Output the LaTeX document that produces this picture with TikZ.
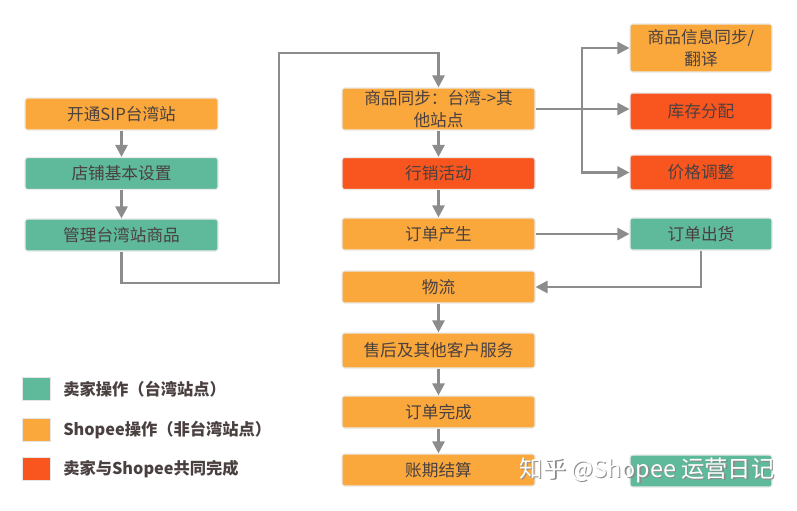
\documentclass[tikz,border=0pt]{standalone}
\usepackage{fontspec}
\setmainfont{Noto Sans CJK SC}
\usetikzlibrary{arrows.meta}
\definecolor{cO}{HTML}{FAA83C}
\definecolor{cG}{HTML}{5FB99B}
\definecolor{cR}{HTML}{F9561F}
\definecolor{txt}{HTML}{4A4040}
\definecolor{ln}{HTML}{8C8C8C}
\tikzset{
  box/.style={draw=black!8, line width=0.8pt, rounded corners=2pt, text=txt, font=\fontsize{12.5}{17}\selectfont, inner sep=0pt, align=center},
  lbox/.style={box, minimum width=144.75pt, minimum height=24pt},
  rbox/.style={box, minimum width=106.5pt, minimum height=24pt},
  line/.style={draw=ln, line width=1.9pt},
  arr/.style={line, -{Triangle[length=9pt,width=9pt]}},
  legsq/.style={draw=black!10, line width=0.6pt, minimum width=21pt, minimum height=17.25pt, inner sep=0pt},
  legtxt/.style={anchor=west, text=txt, font=\fontsize{12.2}{14}\selectfont\bfseries, inner sep=0pt},
  wmark/.style={font=\fontsize{17.5}{20}\selectfont, inner sep=0pt}
}
\begin{document}
\begin{tikzpicture}[x=0.75pt,y=-0.75pt]
\useasboundingbox[fill=white] (0,0) rectangle (797,511);
% left column
\node[lbox, fill=cO] (a1) at (121.5,114) {开通SIP台湾站};
\node[lbox, fill=cG] (a2) at (121.5,173.5) {店铺基本设置};
\node[lbox, fill=cG] (a3) at (121.5,235) {管理台湾站商品};
% middle column
\node[lbox, fill=cO, minimum height=31.5pt] (m1) at (438.5,109) {商品同步：台湾->其\\他站点};
\node[lbox, fill=cR] (m2) at (438.5,173.5) {行销活动};
\node[lbox, fill=cO] (m3) at (438.5,234) {订单产生};
\node[lbox, fill=cO] (m4) at (438.5,287) {物流};
\node[lbox, fill=cO, minimum height=26.25pt] (m5) at (438.5,350.5) {售后及其他客户服务};
\node[lbox, fill=cO] (m6) at (438.5,412) {订单完成};
\node[lbox, fill=cO] (m7) at (438.5,470) {账期结算};
% right column
\node[rbox, fill=cO, minimum height=36pt] (r1) at (701,48) {商品信息同步/\\翻译};
\node[rbox, fill=cR, minimum height=27.75pt] (r2) at (701,111.5) {库存分配};
\node[rbox, fill=cR, minimum height=26.25pt] (r3) at (701,172.5) {价格调整};
\node[rbox, fill=cG] (r4) at (701,234) {订单出货};
\node[rbox, fill=cG] (r5) at (701,471) {};
% connectors
\draw[arr] (a1.south) -- (a2.north);
\draw[arr] (a2.south) -- (a3.north);
\coordinate (j1) at (279,283);
\coordinate (j2) at (279,53);
\draw[arr] (a3.south) |- (j1) -- (j2) -| (m1.north);
\draw[arr] (m1.south) -- (m2.north);
\draw[arr] (m2.south) -- (m3.north);
\draw[arr] (m4.south) -- (m5.north);
\draw[arr] (m5.south) -- (m6.north);
\draw[arr] (m6.south) -- (m7.north);
\coordinate (b) at (582,109);
\draw[line] (m1.east) -- (b);
\draw[arr] (b) |- (r1.west);
\draw[arr] (b) -- (r2.west |- b);
\draw[arr] (b) |- (r3.west);
\draw[arr] (m3.east) -- (r4.west);
\draw[arr] (r4.south) |- (m4.east);
% legend
\node[legsq, fill=cG] (l1) at (36,388.5) {};
\node[legsq, fill=cO] (l2) at (36,429.5) {};
\node[legsq, fill=cR] (l3) at (36,468.5) {};
\node[legtxt] (t1) at (63,389) {卖家操作（台湾站点）};
\node[legtxt] (t2) at (63,430) {Shopee操作（非台湾站点）};
\node[legtxt] (t3) at (63,469) {卖家与Shopee共同完成};
% watermark
\node[wmark, text=black!45] (wms) at (648.5,471.5) {知乎 @Shopee 运营日记};
\node[wmark, text=white] (wm) at (647,470) {知乎 @Shopee 运营日记};
\end{tikzpicture}
\end{document}
